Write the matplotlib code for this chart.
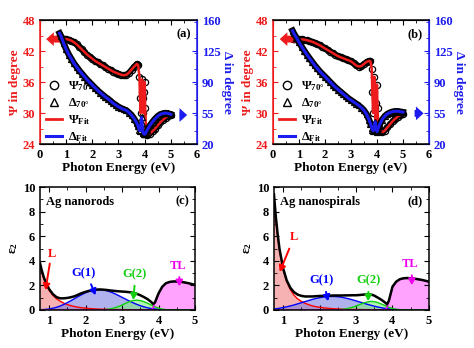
import numpy as np
import matplotlib.pyplot as plt
from matplotlib.lines import Line2D
from matplotlib.ticker import MultipleLocator

plt.rcParams['font.family'] = ['Liberation Serif', 'DejaVu Serif']
plt.rcParams['font.weight'] = 'bold'
plt.rcParams['axes.labelweight'] = 'bold'
plt.rcParams['mathtext.fontset'] = 'custom'
plt.rcParams['mathtext.rm'] = 'Liberation Serif:bold'
plt.rcParams['mathtext.it'] = 'Liberation Serif:bold'
plt.rcParams['mathtext.bf'] = 'Liberation Serif:bold'

# ellipsometry data (photon energy in eV)
E_ab = [0.75, 0.8, 0.9, 1.0, 1.1, 1.2, 1.3, 1.4, 1.5, 1.6, 1.7, 1.8, 1.9, 2.0,
        2.1, 2.2, 2.3, 2.4, 2.5, 2.6, 2.7, 2.8, 2.9, 3.0, 3.1, 3.2, 3.3, 3.4,
        3.5, 3.6, 3.7, 3.75, 3.8, 3.82, 3.85, 3.88, 3.9, 3.93, 3.95, 3.97, 4.0,
        4.02, 4.05, 4.1, 4.2, 4.3, 4.4, 4.5, 4.6, 4.7, 4.8, 4.9, 5.0]

psi_a = [44.5, 44.5, 44.4, 44.3, 44.2, 44.0, 43.7, 43.3, 42.8, 42.3, 41.8, 41.3,
         40.9, 40.5, 40.1, 39.8, 39.5, 39.2, 38.9, 38.6, 38.3, 38.0, 37.8, 37.6,
         37.4, 37.3, 37.4, 37.8, 38.4, 39.0, 39.5, 39.3, 37.0, 33.0, 30.0, 34.0,
         36.5, 33.0, 30.0, 34.0, 36.0, 31.0, 27.0, 25.8, 26.0, 26.5, 27.0, 27.6,
         28.2, 28.7, 29.1, 29.4, 29.6]
delta_a = [145, 142, 134, 127, 121, 116, 111, 107, 103, 99.5, 96, 92.5, 89.5,
           86.5, 83.5, 80.5, 78, 75.5, 73, 71, 68.5, 66, 64, 62, 60.5, 59, 58,
           55.5, 52.5, 48.5, 43.5, 40, 36, 35, 38, 50, 44, 34, 32, 31.5, 31,
           31.5, 33, 36, 41, 45, 48.5, 51.5, 53.5, 54.5, 55, 54.5, 53.5]

psi_b = [44.3, 44.3, 44.3, 44.3, 44.25, 44.2, 44.1, 43.95, 43.8, 43.6, 43.35,
         43.1, 42.8, 42.5, 42.2, 41.9, 41.6, 41.3, 41.0, 40.8, 40.6, 40.4, 40.2,
         40.0, 39.6, 39.2, 39.0, 39.1, 39.5, 39.9, 40.1, 40.0, 38.5, 34.0, 30.0,
         34.0, 37.0, 31.0, 28.0, 32.0, 35.5, 31.0, 28.0, 26.8, 26.3, 26.6, 27.2,
         27.8, 28.4, 28.9, 29.3, 29.6, 29.8]
delta_b = [148, 145, 140, 135, 130, 125.5, 121, 117, 113, 109, 105.5, 102, 99,
           96, 93, 90, 87, 84, 81.5, 79, 76.5, 74, 71.5, 69.5, 67.5, 65.5, 63.5,
           61, 58, 53.5, 47, 43, 38, 36, 35, 37, 40, 45, 40, 36, 34, 35, 38, 42,
           47.5, 51.5, 54, 55.5, 56.5, 57, 57, 56.5, 56]

# epsilon_2 and its oscillator parts
E_cd = [0.75, 0.8, 0.85, 0.9, 1.0, 1.1, 1.2, 1.3, 1.4, 1.5, 1.6, 1.7, 1.8, 1.9,
        2.0, 2.1, 2.2, 2.3, 2.4, 2.5, 2.6, 2.7, 2.8, 2.9, 3.0, 3.1, 3.2, 3.3,
        3.4, 3.5, 3.6, 3.7, 3.8, 3.85, 3.9, 4.0, 4.1, 4.2, 4.3, 4.4, 4.5, 4.6,
        4.7, 4.8, 4.9, 5.0]

tot_c = [3.8, 3.2, 2.7, 2.3, 1.7, 1.3, 1.05, 0.95, 0.95, 0.98, 1.04, 1.12, 1.25,
         1.38, 1.48, 1.56, 1.62, 1.66, 1.67, 1.65, 1.62, 1.58, 1.55, 1.52, 1.5,
         1.48, 1.45, 1.4, 1.32, 1.2, 1.05, 0.88, 0.65, 0.5, 0.6, 1.35, 1.88,
         2.17, 2.28, 2.32, 2.32, 2.3, 2.25, 2.19, 2.12, 2.05]
L_c = [3.75, 3.1, 2.6, 2.2, 1.6, 1.2, 0.92, 0.72, 0.56, 0.44, 0.35, 0.28, 0.22,
       0.18, 0.15, 0.12, 0.1, 0.08, 0.07, 0.06, 0.05, 0.045, 0.04, 0.035, 0.03,
       0.03, 0.025, 0.025, 0.02, 0.02, 0.02, 0.02, 0.015, 0.015, 0.015, 0.01,
       0.01, 0.01, 0.01, 0.01, 0.01, 0.01, 0.01, 0.01, 0.01, 0.01]
G1_c = [0.02, 0.03, 0.04, 0.05, 0.08, 0.14, 0.22, 0.32, 0.45, 0.6, 0.76, 0.93,
        1.1, 1.26, 1.4, 1.52, 1.6, 1.64, 1.65, 1.62, 1.55, 1.45, 1.33, 1.18,
        1.03, 0.88, 0.73, 0.59, 0.46, 0.35, 0.26, 0.18, 0.12, 0.1, 0.08, 0.05,
        0.03, 0.02, 0.01, 0, 0, 0, 0, 0, 0, 0]
G2_c = [0, 0, 0, 0, 0, 0, 0, 0, 0, 0, 0, 0, 0, 0, 0, 0, 0, 0, 0, 0.02, 0.05,
        0.1, 0.18, 0.28, 0.4, 0.55, 0.68, 0.77, 0.8, 0.77, 0.68, 0.55, 0.4,
        0.33, 0.26, 0.15, 0.07, 0.03, 0.01, 0, 0, 0, 0, 0, 0, 0]
TL_c = [0, 0, 0, 0, 0, 0, 0, 0, 0, 0, 0, 0, 0, 0, 0, 0, 0, 0, 0, 0, 0, 0, 0, 0,
        0, 0, 0, 0, 0, 0, 0, 0, 0, 0.2, 0.55, 1.32, 1.86, 2.15, 2.27, 2.31, 2.31,
        2.29, 2.24, 2.18, 2.11, 2.04]

tot_d = [9.4, 7.6, 6.2, 5.0, 3.4, 2.4, 1.8, 1.45, 1.25, 1.15, 1.1, 1.1, 1.1,
         1.12, 1.14, 1.15, 1.16, 1.17, 1.18, 1.18, 1.18, 1.19, 1.19, 1.2, 1.2,
         1.22, 1.25, 1.28, 1.27, 1.17, 1.0, 0.82, 0.6, 0.45, 0.75, 1.9, 2.3,
         2.5, 2.58, 2.6, 2.58, 2.55, 2.5, 2.45, 2.38, 2.3]
L_d = [8.6, 7.3, 6.0, 4.9, 3.3, 2.3, 1.65, 1.2, 0.9, 0.7, 0.55, 0.43, 0.34,
       0.27, 0.22, 0.18, 0.15, 0.12, 0.1, 0.08, 0.07, 0.06, 0.05, 0.04, 0.04,
       0.035, 0.03, 0.03, 0.025, 0.025, 0.02, 0.02, 0.02, 0.02, 0.02, 0.015,
       0.015, 0.015, 0.01, 0.01, 0.01, 0.01, 0.01, 0.01, 0.01, 0.01]
G1_d = [0.08, 0.1, 0.12, 0.14, 0.2, 0.26, 0.33, 0.41, 0.5, 0.59, 0.68, 0.77,
        0.86, 0.94, 1.0, 1.05, 1.09, 1.1, 1.1, 1.08, 1.04, 0.98, 0.91, 0.83,
        0.74, 0.65, 0.56, 0.47, 0.39, 0.31, 0.24, 0.18, 0.13, 0.11, 0.09, 0.06,
        0.04, 0.03, 0.02, 0.01, 0, 0, 0, 0, 0, 0]
G2_d = [0, 0, 0, 0, 0, 0, 0, 0, 0, 0, 0, 0, 0, 0, 0, 0, 0, 0, 0, 0.02, 0.04,
        0.08, 0.14, 0.22, 0.32, 0.44, 0.56, 0.65, 0.7, 0.68, 0.6, 0.48, 0.35,
        0.28, 0.22, 0.12, 0.06, 0.02, 0.01, 0, 0, 0, 0, 0, 0, 0]
TL_d = [0, 0, 0, 0, 0, 0, 0, 0, 0, 0, 0, 0, 0, 0, 0, 0, 0, 0, 0, 0, 0, 0, 0, 0,
        0, 0, 0, 0, 0, 0, 0, 0, 0, 0.2, 0.7, 1.85, 2.28, 2.48, 2.56, 2.58, 2.57,
        2.54, 2.49, 2.44, 2.37, 2.29]

RED = '#ee1c1c'
BLUE = '#1c1cee'
FS = 9

fig = plt.figure(figsize=(4.74, 3.48), dpi=100)


def ellips_panel(rect, psi, delta, tag, larrow, rarrow):
    ax = fig.add_axes(rect)
    ax2 = ax.twinx()
    E = np.array(E_ab)
    # outside the sharp feature the dense points merge into a black band
    smooth = (E < 3.78) | (E > 4.07)
    psi_band = np.where(smooth, psi, np.nan)
    delta_band = np.where(smooth, delta, np.nan)
    ax.plot(E, psi_band, '-', color='black', lw=4.2, zorder=1)
    ax.plot(E, psi, 'o', ms=4.5, mfc='none', mec='black', mew=0.9, zorder=2)
    ax.plot(E, psi, '-', color=RED, lw=1.8, zorder=3)
    ax2.plot(E, delta_band, '-', color='black', lw=4.6, zorder=1)
    ax2.plot(E, delta, '^', ms=4.5, mfc='none', mec='black', mew=0.9, zorder=2)
    ax2.plot(E, delta, '-', color=BLUE, lw=2.2, zorder=3)
    ax.set_xlim(0, 6)
    ax.set_ylim(24, 48)
    ax2.set_ylim(20, 160)
    ax.set_xticks(range(7))
    ax.set_yticks([24, 30, 36, 42, 48])
    ax2.set_yticks([20, 55, 90, 125, 160])
    ax.xaxis.set_minor_locator(MultipleLocator(0.5))
    ax.yaxis.set_minor_locator(MultipleLocator(3))
    ax2.yaxis.set_minor_locator(MultipleLocator(17.5))
    ax.tick_params(which='both', direction='in', top=True, labelsize=FS)
    ax.tick_params(axis='y', which='both', colors=RED, labelcolor=RED)
    ax2.tick_params(which='both', direction='in', colors=BLUE, labelcolor=BLUE, labelsize=FS)
    ax.tick_params(which='major', length=3.5)
    ax.tick_params(which='minor', length=2)
    ax2.tick_params(which='major', length=3.5)
    ax2.tick_params(which='minor', length=2)
    ax2.spines['left'].set_color(RED)
    ax2.spines['right'].set_color(BLUE)
    ax.spines['left'].set_color(RED)
    ax.spines['right'].set_color(BLUE)
    for sp in ax2.spines.values():
        sp.set_linewidth(1.1)
    ax.set_xlabel('Photon Energy (eV)', fontsize=FS + 0.5, labelpad=1)
    ax.set_ylabel('Ψ in degree', color=RED, fontsize=FS + 0.5, labelpad=1)
    ax2.set_ylabel('Δ in degree', color=BLUE, fontsize=FS + 0.5, rotation=270, labelpad=9)
    ax2.text(0.96, 0.93, tag, transform=ax2.transAxes, ha='right', va='top', fontsize=FS)
    handles = [Line2D([], [], ls='none', marker='o', ms=6, mfc='white', mec='black', mew=1),
               Line2D([], [], ls='none', marker='^', ms=6, mfc='white', mec='black', mew=1),
               Line2D([], [], color=RED, lw=2),
               Line2D([], [], color=BLUE, lw=2.2)]
    labels = [r'$\Psi_{70°}$', r'$\Delta_{70°}$', r'$\Psi_{\rm Fit}$', r'$\Delta_{\rm Fit}$']
    ax2.legend(handles, labels, loc='upper left', bbox_to_anchor=(-0.01, 0.58),
               frameon=False, fontsize=FS, handlelength=1.3, handletextpad=0.5,
               labelspacing=0.25, borderaxespad=0.2)
    ax.annotate('', xy=(larrow[0], larrow[2]), xytext=(larrow[1], larrow[2]),
                arrowprops=dict(arrowstyle='simple,head_length=0.5,head_width=0.9,tail_width=0.45',
                                color=RED, lw=0, mutation_scale=11))
    ax2.annotate('', xy=(rarrow[1], rarrow[2]), xytext=(rarrow[0], rarrow[2]),
                 arrowprops=dict(arrowstyle='simple,head_length=0.5,head_width=0.9,tail_width=0.45',
                                 color=BLUE, lw=0, mutation_scale=11))


def eps_panel(rect, tot, L, G1, G2, TL, name, tag, notes):
    ax = fig.add_axes(rect)
    parts = [(L, '#f08080', 'red'), (G1, '#7b7fe0', 'blue'),
             (G2, '#80ee80', '#10d010'), (TL, '#ff66ff', '#ee00ee')]
    for vals, fc, ec in parts:
        ax.fill_between(E_cd, 0, vals, facecolor=fc, alpha=0.6, lw=0)
        ax.plot(E_cd, vals, color=ec, lw=1.0)
    ax.plot(E_cd, tot, color='black', lw=1.8)
    ax.set_xlim(0.75, 5)
    ax.set_ylim(0, 10)
    ax.set_xticks([1, 2, 3, 4, 5])
    ax.set_yticks([0, 2, 4, 6, 8, 10])
    ax.xaxis.set_minor_locator(MultipleLocator(0.5))
    ax.yaxis.set_minor_locator(MultipleLocator(1))
    ax.tick_params(which='both', direction='in', top=True, right=True, labelsize=FS)
    ax.tick_params(which='major', length=3.5)
    ax.tick_params(which='minor', length=2)
    for sp in ax.spines.values():
        sp.set_linewidth(1.1)
    ax.set_xlabel('Photon Energy (eV)', fontsize=FS + 0.5, labelpad=1)
    ax.set_ylabel(r'$\varepsilon_2$', fontsize=FS + 0.5, labelpad=2)
    ax.text(0.04, 0.93, name, transform=ax.transAxes, ha='left', va='top', fontsize=FS)
    ax.text(0.96, 0.93, tag, transform=ax.transAxes, ha='right', va='top', fontsize=FS)
    for txt, pos, tail, head, col in notes:
        ax.text(pos[0], pos[1], txt, color=col, ha='center', va='center', fontsize=FS)
        ax.annotate('', xy=head, xytext=tail,
                    arrowprops=dict(arrowstyle='-|>,head_length=0.35,head_width=0.2',
                                    color=col, lw=1.4))


ellips_panel([0.0844, 0.5862, 0.3312, 0.3563], psi_a, delta_a, '(a)',
             (0.13, 0.89, 44.3), (5.22, 5.73, 52.7))
ellips_panel([0.576, 0.5862, 0.329, 0.3563], psi_b, delta_b, '(b)',
             (0.15, 0.99, 44.3), (5.34, 5.9, 54.6))

notes_c = [('L', (1.07, 4.55), (1.03, 4.0), (0.89, 1.4), 'red'),
           ('G(1)', (1.94, 3.0), (2.12, 2.3), (2.3, 1.0), 'blue'),
           ('G(2)', (3.33, 2.9), (3.35, 2.2), (3.3, 0.6), '#10d010'),
           ('TL', (4.54, 3.6), (4.57, 2.9), (4.57, 1.7), '#ee00ee')]
notes_d = [('L', (1.29, 5.9), (1.2, 5.2), (0.88, 2.9), 'red'),
           ('G(1)', (2.06, 2.4), (2.16, 1.7), (2.25, 0.5), 'blue'),
           ('G(2)', (3.34, 2.4), (3.34, 1.7), (3.33, 0.5), '#10d010'),
           ('TL', (4.48, 3.7), (4.53, 3.05), (4.53, 1.8), '#ee00ee')]

eps_panel([0.0844, 0.1092, 0.327, 0.3534], tot_c, L_c, G1_c, G2_c, TL_c,
          'Ag nanorods', '(c)', notes_c)
eps_panel([0.578, 0.1092, 0.327, 0.3534], tot_d, L_d, G1_d, G2_d, TL_d,
          'Ag nanospirals', '(d)', notes_d)

fig.savefig('out.png', dpi=100)
